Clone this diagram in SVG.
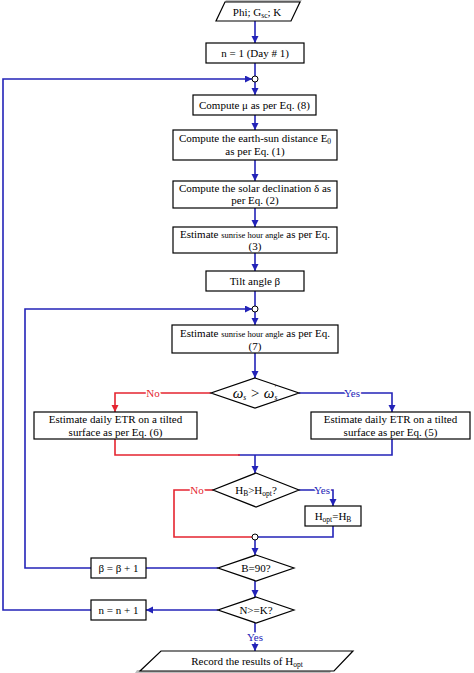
<svg xmlns="http://www.w3.org/2000/svg" width="474" height="673" viewBox="0 0 474 673">
<defs>
<style>
.box{fill:#fff;stroke:#000;stroke-width:1.2}
.t{font-family:"Liberation Serif","Times New Roman",serif;font-size:11px;fill:#000;text-anchor:middle}
.sm{font-size:8.5px}
.sub{font-size:7.5px}
.b{fill:none;stroke:#2323b8;stroke-width:1.6}
.r{fill:none;stroke:#e52530;stroke-width:1.6}
.lb{font-family:"Liberation Serif","Times New Roman",serif;font-size:11px;text-anchor:middle;paint-order:stroke;stroke:#fff;stroke-width:3}
.shadow{fill:#bdbdbd}
</style>
<marker id="ab" markerUnits="userSpaceOnUse" markerWidth="8" markerHeight="8" refX="7" refY="3.5" orient="auto"><path d="M0,0 L7,3.5 L0,7 z" fill="#2323b8"/></marker>
<marker id="ar" markerUnits="userSpaceOnUse" markerWidth="8" markerHeight="8" refX="7" refY="3.5" orient="auto"><path d="M0,0 L7,3.5 L0,7 z" fill="#e52530"/></marker>
</defs>
<rect width="474" height="673" fill="#fff"/>

<g id="connectors">
<path class="b" d="M255,21 V43" marker-end="url(#ab)"/>
<path class="b" d="M255,63 V76"/>
<path class="b" d="M255,82 V95" marker-end="url(#ab)"/>
<path class="b" d="M255,115 V130" marker-end="url(#ab)"/>
<path class="b" d="M255,160 V181" marker-end="url(#ab)"/>
<path class="b" d="M255,208 V227" marker-end="url(#ab)"/>
<path class="b" d="M255,253 V271" marker-end="url(#ab)"/>
<path class="b" d="M255,291 V306"/>
<path class="b" d="M255,312 V325" marker-end="url(#ab)"/>
<path class="b" d="M255,353 V378" marker-end="url(#ab)"/>
<path class="r" d="M211,393 H115 V412" marker-end="url(#ar)"/>
<path class="b" d="M299,393 H392 V412" marker-end="url(#ab)"/>
<path class="b" d="M392,439 V455 H238"/>
<path class="r" d="M115,439 V455 H240"/>
<path class="b" d="M255,455 V473" marker-end="url(#ab)"/>
<path class="r" d="M213,490 H174 V537 H253"/>
<path class="b" d="M299,490 H333 V506" marker-end="url(#ab)"/>
<path class="b" d="M333,526 V537 H258"/>
<path class="b" d="M255,540 V555" marker-end="url(#ab)"/>
<path class="b" d="M218,568 H146"/>
<path class="b" d="M91,568 H25 V309 H252" marker-end="url(#ab)"/>
<path class="b" d="M255,581 V597" marker-end="url(#ab)"/>
<path class="b" d="M218,610 H146" marker-end="url(#ab)"/>
<path class="b" d="M91,610 H3 V79 H252" marker-end="url(#ab)"/>
<path class="b" d="M255,623 V651" marker-end="url(#ab)"/>
<circle cx="255" cy="79" r="3" fill="#fff" stroke="#000" stroke-width="1"/>
<circle cx="255" cy="309" r="3" fill="#fff" stroke="#000" stroke-width="1"/>
<circle cx="255" cy="537" r="3" fill="#fff" stroke="#000" stroke-width="1"/>
<text class="lb" x="153" y="397" fill="#e52530">No</text>
<text class="lb" x="352" y="397" fill="#2323b8">Yes</text>
<text class="lb" x="197" y="494" fill="#e52530">No</text>
<text class="lb" x="322" y="494" fill="#2323b8">Yes</text>
<text class="lb" x="255" y="641" fill="#2323b8">Yes</text>
</g>

<g id="input">
<polygon class="shadow" points="226,0 302,0 300,3 224,3"/>
<polygon class="box" points="225,2 300,2 291,21 216,21"/>
<text class="t" x="257" y="16">Phi; G<tspan class="sub" dy="2">sc</tspan><tspan dy="-2">; K</tspan></text>
</g>
<g id="n1">
<rect class="box" x="206" y="43" width="98" height="20"/>
<text class="t" x="255" y="57">n = 1 (Day # 1)</text>
</g>
<g id="mu">
<rect class="box" x="193" y="95" width="123" height="20"/>
<text class="t" x="254.5" y="109">Compute μ as per Eq. (8)</text>
</g>
<g id="earthsun">
<rect class="box" x="173" y="130" width="164" height="30"/>
<text class="t" x="255" y="142">Compute the earth-sun distance E<tspan class="sub" dy="2">0</tspan></text>
<text class="t" x="255" y="155">as per Eq. (1)</text>
</g>
<g id="decl">
<rect class="box" x="173" y="181" width="164" height="27"/>
<text class="t" x="255" y="192">Compute the solar declination δ  as</text>
<text class="t" x="255" y="204">per Eq. (2)</text>
</g>
<g id="sunrise3">
<rect class="box" x="173" y="227" width="164" height="26"/>
<text class="t" x="255" y="238">Estimate <tspan class="sm">sunrise hour angle</tspan> as per Eq.</text>
<text class="t" x="255" y="250">(3)</text>
</g>
<g id="tilt">
<rect class="box" x="206" y="271" width="98" height="20"/>
<text class="t" x="255" y="285">Tilt angle β</text>
</g>
<g id="sunrise7">
<rect class="box" x="172" y="325" width="166" height="28"/>
<text class="t" x="255" y="337">Estimate <tspan class="sm">sunrise hour angle</tspan> as per Eq.</text>
<text class="t" x="255" y="350">(7)</text>
</g>
<g id="omega">
<polygon class="box" points="255,378 299,393 255,408 211,393"/>
<text class="t" x="255" y="398" font-style="italic" style="font-size:15px">ω<tspan class="sub" dy="2">s</tspan><tspan dy="-2"> &gt; ω</tspan><tspan class="sub" dy="2">s</tspan><tspan class="sub" dx="-3" dy="-9">'</tspan></text>
</g>
<g id="etr6">
<rect class="box" x="34" y="412" width="163" height="27"/>
<text class="t" x="115.5" y="423">Estimate daily ETR on a tilted</text>
<text class="t" x="115.5" y="436">surface as per Eq. (6)</text>
</g>
<g id="etr5">
<rect class="box" x="311" y="412" width="159" height="27"/>
<text class="t" x="390.5" y="423">Estimate daily ETR on a tilted</text>
<text class="t" x="390.5" y="436">surface as per Eq. (5)</text>
</g>
<g id="hbcheck">
<polygon class="box" points="256,473 299,490 256,507 213,490"/>
<text class="t" x="256" y="494">H<tspan class="sub" dy="2">B</tspan><tspan dy="-2">&gt;H</tspan><tspan class="sub" dy="2">opt</tspan><tspan dy="-2">?</tspan></text>
</g>
<g id="hopt">
<rect class="box" x="305" y="506" width="56" height="20"/>
<text class="t" x="333" y="520">H<tspan class="sub" dy="2">opt</tspan><tspan dy="-2">=H</tspan><tspan class="sub" dy="2">B</tspan></text>
</g>
<g id="b90">
<polygon class="box" points="256,555 294,568 256,581 218,568"/>
<text class="t" x="256" y="572">B=90?</text>
</g>
<g id="betainc">
<rect class="box" x="91" y="558" width="55" height="20"/>
<text class="t" x="118.5" y="572">β = β + 1</text>
</g>
<g id="nk">
<polygon class="box" points="256,597 294,610 256,623 218,610"/>
<text class="t" x="256" y="614">N&gt;=K?</text>
</g>
<g id="ninc">
<rect class="box" x="91" y="600" width="55" height="20"/>
<text class="t" x="118.5" y="614">n = n + 1</text>
</g>
<g id="record">
<polygon class="shadow" points="137,670 332,670 330,673 135,673"/>
<polygon class="box" points="161,651 353,651 334,671 140,671"/>
<text class="t" x="247" y="665">Record the results of  H<tspan class="sub" dy="2">opt</tspan></text>
</g>
</svg>
